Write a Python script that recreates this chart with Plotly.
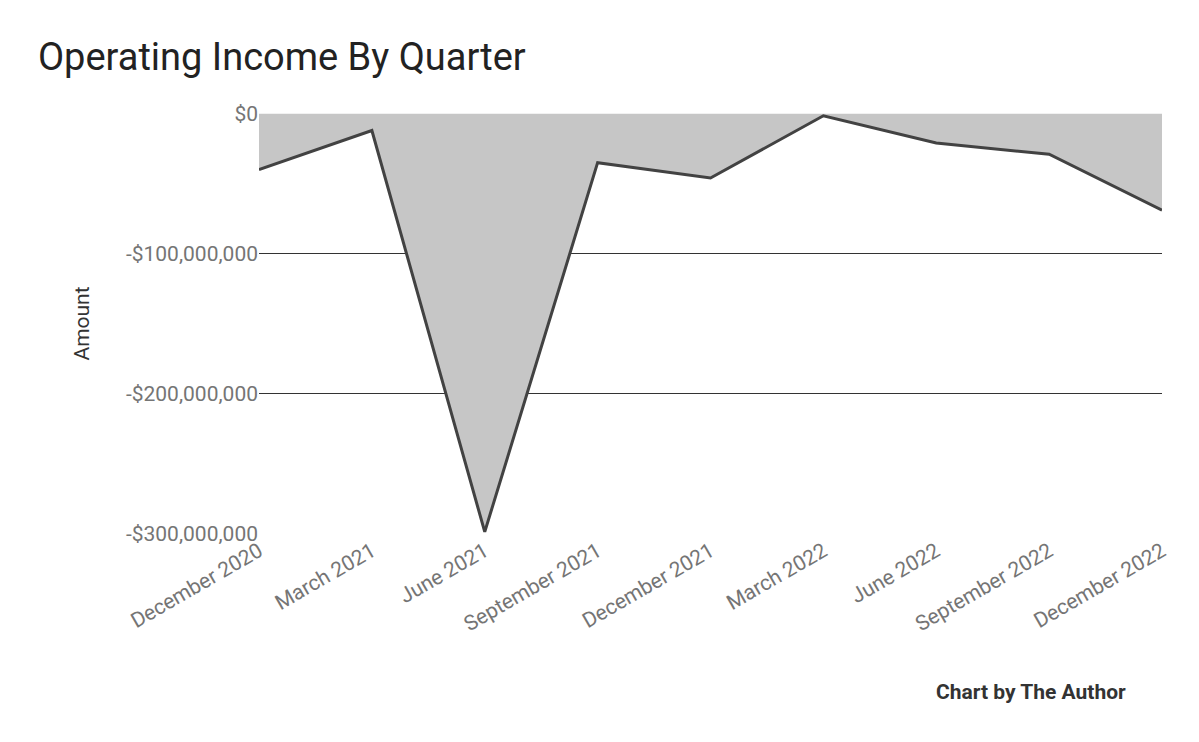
import plotly.graph_objects as go

quarters = ["December 2020","March 2021","June 2021","September 2021","December 2021",
            "March 2022","June 2022","September 2022","December 2022"]
income = [-40e6,-12e6,-299e6,-35e6,-46e6,-1.5e6,-21e6,-29e6,-69e6]
ytick_vals = [0,-100e6,-200e6,-300e6]
ytick_text = ["$0","-$100,000,000","-$200,000,000","-$300,000,000"]

fig = go.Figure(go.Scatter(x=quarters, y=income, mode="lines", fill="tozeroy",
    fillcolor="#c6c6c6", line=dict(color="#424242", width=3), cliponaxis=False))
fig.update_layout(
    width=1199, height=742, plot_bgcolor="white", paper_bgcolor="white",
    font=dict(family="Roboto", color="#757575", size=21),
    margin=dict(l=251, r=45, t=105, b=216),
    title=dict(text="Operating Income By Quarter", x=0.025, xanchor="left", y=0.935, yanchor="middle",
               font=dict(size=38, color="#222222")),
    showlegend=False,
)
fig.update_xaxes(range=[0,8], tickangle=-30, showgrid=False, ticks="", tickfont=dict(size=21))
fig.update_yaxes(range=[-300.5e6,0.5e6], tickvals=ytick_vals, ticktext=ytick_text, gridcolor="#333333",
                 zeroline=False, ticks="", ticklen=4,
                 title=dict(text="Amount", font=dict(size=21, color="#333333"), standoff=30))
fig.add_annotation(text="<b>Chart by The Author</b>", xref="paper", yref="paper", x=0.962, y=-0.375,
                   xanchor="right", yanchor="middle", showarrow=False, font=dict(size=21, color="#333333"))
fig.write_html("out.html")
